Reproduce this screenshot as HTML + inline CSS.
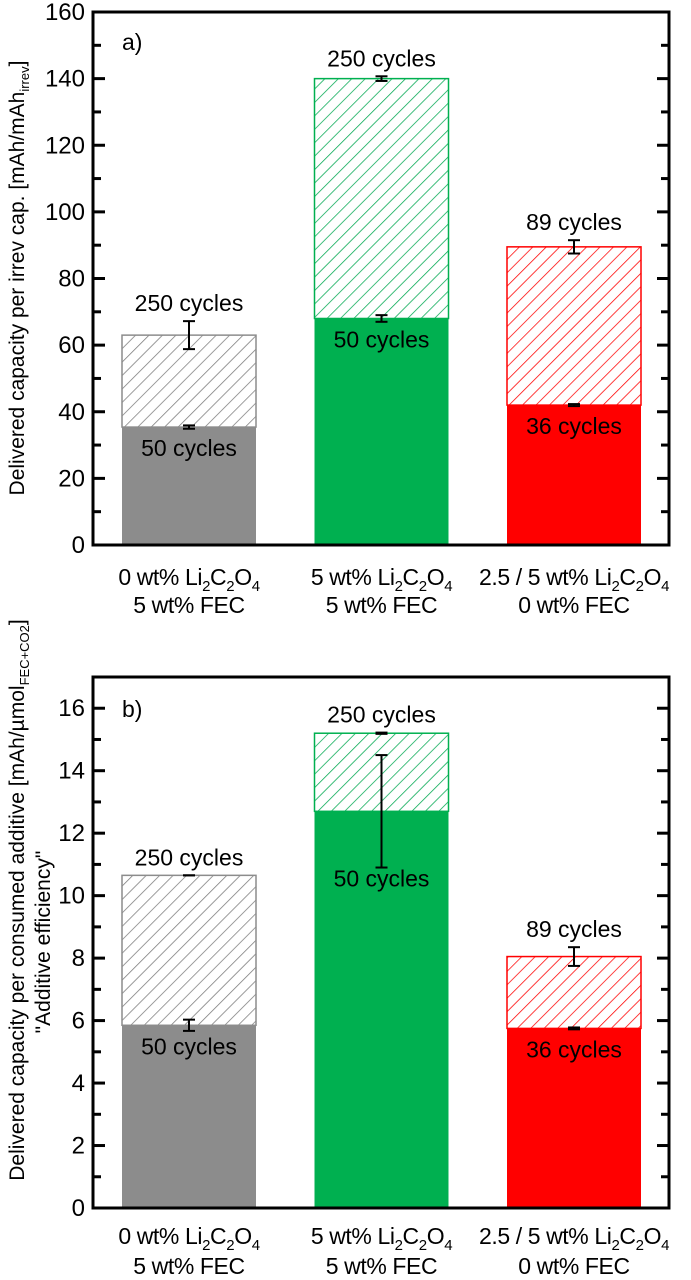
<!DOCTYPE html>
<html><head><meta charset="utf-8"><style>
html,body{margin:0;padding:0;background:#fff;}
svg{display:block;font-family:"Liberation Sans",Arial,sans-serif;}
</style></head><body>
<svg id="chart" width="691" height="1280" viewBox="0 0 691 1280" xmlns="http://www.w3.org/2000/svg">
<defs>
<pattern id="hg" patternUnits="userSpaceOnUse" width="9.5" height="9.5" patternTransform="rotate(45)"><line x1="0" y1="0" x2="0" y2="9.5" stroke="#7a7a7a" stroke-width="1.5"/></pattern>
<pattern id="hgr" patternUnits="userSpaceOnUse" width="9.5" height="9.5" patternTransform="rotate(45)"><line x1="0" y1="0" x2="0" y2="9.5" stroke="#00a850" stroke-width="1.5"/></pattern>
<pattern id="hr" patternUnits="userSpaceOnUse" width="9.5" height="9.5" patternTransform="rotate(45)"><line x1="0" y1="0" x2="0" y2="9.5" stroke="#ff0000" stroke-width="1.5"/></pattern>
</defs>
</svg>
<script>
const categories = ["0 wt% Li2C2O4|5 wt% FEC", "5 wt% Li2C2O4|5 wt% FEC", "2.5 / 5 wt% Li2C2O4|0 wt% FEC"];
const colors = ["#8c8c8c", "#00b050", "#ff0000"];
const hatchIds = ["hg", "hgr", "hr"];
// Panel a
const aTotal = [63, 140, 89.5];
const aTotalErr = [4.2, 0.7, 2];
const aSolid = [35.4, 68, 42];
const aSolidErr = [0.5, 1, 0.3];
const aTopLabel = ["250 cycles", "250 cycles", "89 cycles"];
const aSolidLabel = ["50 cycles", "50 cycles", "36 cycles"];
const aTicks = [0, 20, 40, 60, 80, 100, 120, 140, 160];
// Panel b
const bTotal = [10.65, 15.2, 8.05];
const bTotalErr = [0, 0.02, 0.3];
const bSolid = [5.85, 12.7, 5.75];
const bSolidErr = [0.18, 1.8, 0.03];
const bTopLabel = ["250 cycles", "250 cycles", "89 cycles"];
const bSolidLabel = ["50 cycles", "50 cycles", "36 cycles"];
const bTicks = [0, 2, 4, 6, 8, 10, 12, 14, 16];

const NS = "http://www.w3.org/2000/svg";
const svg = document.getElementById("chart");
function mk(tag, attrs, parent, text) {
  const e = document.createElementNS(NS, tag);
  for (const k in attrs) e.setAttribute(k, attrs[k]);
  if (text !== undefined) e.textContent = text;
  (parent || svg).appendChild(e);
  return e;
}
const L = 93, R = 669, catStep = 192.5, cat0 = 189, barW = 134;
function xc(i) { return cat0 + i * catStep; }

function panel(p) {
  const g = mk("g", {});
  
  
  const y = v => p.bottom - v / p.max * (p.bottom - p.top);
  for (let i = 0; i < categories.length; i++) {
    const x0 = xc(i) - barW / 2;
    const tot = mk("rect", {x: x0, y: y(p.total[i]), width: barW, height: y(p.solid[i]) - y(p.total[i]), fill: "url(#" + hatchIds[i] + ")", stroke: colors[i], "stroke-width": 1.5}, g);
    
    
    const sol = mk("rect", {x: x0, y: y(p.solid[i]), width: barW, height: p.bottom - y(p.solid[i]), fill: colors[i]}, g);
    
    
    [[p.total[i], p.totalErr[i]], [p.solid[i], p.solidErr[i]]].forEach(([v, e]) => {
      const eb = mk("g", {stroke: "#000", "stroke-width": 2}, g);
      
      
      const cx = xc(i), y1 = y(v + e), y2 = y(v - e);
      mk("line", {x1: cx, x2: cx, y1: y1, y2: y2}, eb);
      mk("line", {x1: cx - 6, x2: cx + 6, y1: y1, y2: y1}, eb);
      mk("line", {x1: cx - 6, x2: cx + 6, y1: y2, y2: y2}, eb);
    });
    const tl = mk("text", {x: xc(i), y: y(p.total[i] + p.totalErr[i]) - 10, "text-anchor": "middle", "font-size": 23}, g, p.topLabel[i]);
    
    
    const sy = (p.solidLabelAt && p.solidLabelAt[i] !== null) ? y(p.solidLabelAt[i]) : y(p.solid[i]) + 29;
    const sl = mk("text", {x: xc(i), y: sy, "text-anchor": "middle", "font-size": 23}, g, p.solidLabel[i]);
    
    
    const parts = categories[i].split("|");
    const c1 = mk("text", {x: xc(i), y: p.bottom + p.lab1, "text-anchor": "middle", "font-size": 23, "letter-spacing": "-0.4"}, g);
    
    
    const m = parts[0].match(/^(.*)Li2C2O4$/);
    mk("tspan", {}, c1, m[1] + "Li");
    mk("tspan", {dy: 6, "font-size": 15}, c1, "2");
    mk("tspan", {dy: -6}, c1, "C");
    mk("tspan", {dy: 6, "font-size": 15}, c1, "2");
    mk("tspan", {dy: -6}, c1, "O");
    mk("tspan", {dy: 6, "font-size": 15}, c1, "4");
    const c2 = mk("text", {x: xc(i), y: p.bottom + p.lab2, "text-anchor": "middle", "font-size": 23, "letter-spacing": "-0.4"}, g, parts[1]);
    
    
  }
  const fr = mk("rect", {x: L, y: p.top, width: R - L, height: p.bottom - p.top, fill: "none", stroke: "#000", "stroke-width": 3}, g);
  
  
  const step = p.ticks[1] - p.ticks[0];
  for (let t = 0; t < p.ticks.length; t++) {
    const v = p.ticks[t], yy = y(v);
    mk("line", {x1: L, x2: L + 12, y1: yy, y2: yy, stroke: "#000", "stroke-width": 3}, g);
    mk("line", {x1: R, x2: R - 12, y1: yy, y2: yy, stroke: "#000", "stroke-width": 3}, g);
    const tx = mk("text", {x: L - 8, y: yy + 8, "text-anchor": "end", "font-size": 24}, g, String(v));
    
    
    const mv = v + step / 2;
    if (mv < p.max) {
      const my = y(mv);
      mk("line", {x1: L, x2: L + 8, y1: my, y2: my, stroke: "#000", "stroke-width": 3}, g);
      mk("line", {x1: R, x2: R - 8, y1: my, y2: my, stroke: "#000", "stroke-width": 3}, g);
    }
  }
  const pl = mk("text", {x: 122, y: p.top + p.panelLabelY, "font-size": 23}, g, p.panelLabel);
  
  
  return y;
}

panel({name: "panel-a", top: 12, bottom: 545, max: 160, total: aTotal, totalErr: aTotalErr, solid: aSolid, solidErr: aSolidErr,
  topLabel: aTopLabel, solidLabel: aSolidLabel, ticks: aTicks, lab1: 40, lab2: 68, panelLabel: "a)", panelLabelY: 38, solidLabelAt: null});
panel({name: "panel-b", top: 677, bottom: 1208, max: 17, total: bTotal, totalErr: bTotalErr, solid: bSolid, solidErr: bSolidErr,
  topLabel: bTopLabel, solidLabel: bSolidLabel, ticks: bTicks, lab1: 36, lab2: 66, panelLabel: "b)", panelLabelY: 40, solidLabelAt: [null, 10.3, null]});

const ya = mk("text", {transform: "translate(24,278) rotate(-90)", "text-anchor": "middle", "font-size": 21});


mk("tspan", {}, ya, "Delivered capacity per irrev cap. [mAh/mAh");
mk("tspan", {dy: 5, "font-size": 13}, ya, "irrev");
mk("tspan", {dy: -5}, ya, "]");

const yb = mk("text", {transform: "translate(24,900) rotate(-90)", "text-anchor": "middle", "font-size": 21});


mk("tspan", {}, yb, "Delivered capacity per consumed additive [mAh/µmol");
mk("tspan", {dy: 5, "font-size": 13}, yb, "FEC+CO2");
mk("tspan", {dy: -5}, yb, "]");
const yb2 = mk("text", {transform: "translate(50,942) rotate(-90)", "text-anchor": "middle", "font-size": 21}, svg, "\"Additive efficiency\"");


</script>
</body></html>
